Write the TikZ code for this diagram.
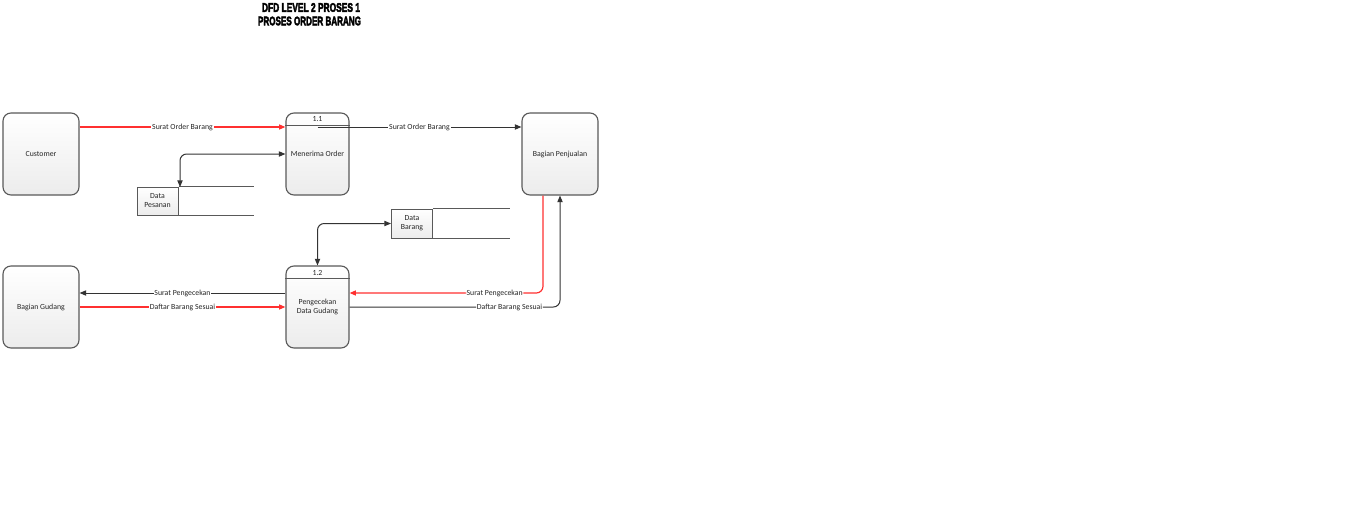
\documentclass[tikz,border=0pt]{standalone}
\usepackage{fontspec}
\setmainfont{Carlito}
\newfontfamily\titlefont[FakeBold=4]{Liberation Sans Bold}
\usetikzlibrary{arrows.meta,calc}
\definecolor{dfdred}{HTML}{FF3030}
\begin{document}
\begin{tikzpicture}[x=0.75pt,y=-0.75pt,
  every node/.style={font=\fontsize{5.85}{6.75}\selectfont, text=black!85},
  ent/.style={draw=black!65, line width=0.85pt, rounded corners=6pt, top color=white, bottom color=gray!15, minimum width=57pt, minimum height=61.5pt, inner sep=0pt, align=center},
  proc/.style={ent, minimum width=47.25pt},
  dsbox/.style={draw=black!65, line width=0.75pt, top color=white, bottom color=gray!15, minimum width=30.75pt, minimum height=21pt, inner sep=0pt, align=center},
  dsline/.style={draw=black!65, line width=0.75pt},
  flow/.style={draw=black!80, line width=0.75pt, -{Triangle[length=5pt,width=4pt]}},
  rflow/.style={draw=dfdred, line width=0.9pt, -{Triangle[length=4.8pt,width=3.8pt]}},
  biflow/.style={draw=black!80, line width=0.75pt, {Triangle[length=5pt,width=4pt]}-{Triangle[length=5pt,width=4pt]}, rounded corners=5pt},
  lbl/.style={fill=white, inner sep=0.6pt, text=black!85},
  ttl/.style={inner sep=0pt, font=\titlefont, text=black},
]
\useasboundingbox (0,0) rectangle (1360,521);

% title
\node[ttl] (t1) at (311,7.5) {\resizebox{73.5pt}{6.5pt}{DFD LEVEL 2 PROSES 1}};
\node[ttl] (t2) at (309.5,21) {\resizebox{77.25pt}{6.5pt}{PROSES ORDER BARANG}};

% external entities
\node[ent] (cust) at (41,154) {Customer};
\node[ent] (bp) at (560,154) {Bagian Penjualan};
\node[ent] (gud) at (41,307) {Bagian Gudang};

% processes
\node[proc] (p11) at (317.5,154) {Menerima Order};
\draw[dsline] ($(p11.north west)+(0,13)$) -- ($(p11.north east)+(0,13)$);
\node (n11) at (317.5,119.5) {1.1};

\node[proc] (p12) at (317.5,307) {};
\node (p12t) at (317.5,306.5) [align=center] {Pengecekan\\Data Gudang};
\draw[dsline] ($(p12.north west)+(0,13)$) -- ($(p12.north east)+(0,13)$);
\node (n12) at (317.5,272.5) {1.2};

% data stores
\node[dsbox] (ds1) at (157.5,201) {Data\\Pesanan};
\draw[dsline] (ds1.north east) -- ++(75,0);
\draw[dsline] (ds1.south east) -- ++(75,0);
\node[dsbox, minimum height=21.75pt] (ds2) at (412,223.5) {Data\\Barang};
\draw[dsline] (ds2.north east) -- ++(77,0);
\draw[dsline] (ds2.south east) -- ++(77,0);

% helper coordinates
\coordinate (y127) at (0,127);
\coordinate (y293) at (0,293);
\coordinate (y307) at (0,307);
\coordinate (c1) at (180,187);
\coordinate (bpL) at (543,0);

% flows
\draw[rflow] (cust.east |- y127) -- node[lbl]{Surat Order Barang} (p11.west |- y127);
\draw[flow] (p11.north |- y127) -- node[lbl]{Surat Order Barang} (bp.west |- y127);
\draw[biflow] (p11.west) -| (c1);
\draw[biflow] (ds2.west) -| (p12.north);
\draw[rflow, rounded corners=5pt] (bp.south -| bpL) |- node[lbl,pos=0.625]{Surat Pengecekan} (p12.east |- y293);
\draw[flow, rounded corners=5pt] (p12.east |- y307) -| node[lbl,pos=0.38]{Daftar Barang Sesuai} (bp.south);
\draw[flow] (p12.west |- y293) -- node[lbl]{Surat Pengecekan} (gud.east |- y293);
\draw[rflow] (gud.east |- y307) -- node[lbl]{Daftar Barang Sesuai} (p12.west |- y307);
\end{tikzpicture}
\end{document}
